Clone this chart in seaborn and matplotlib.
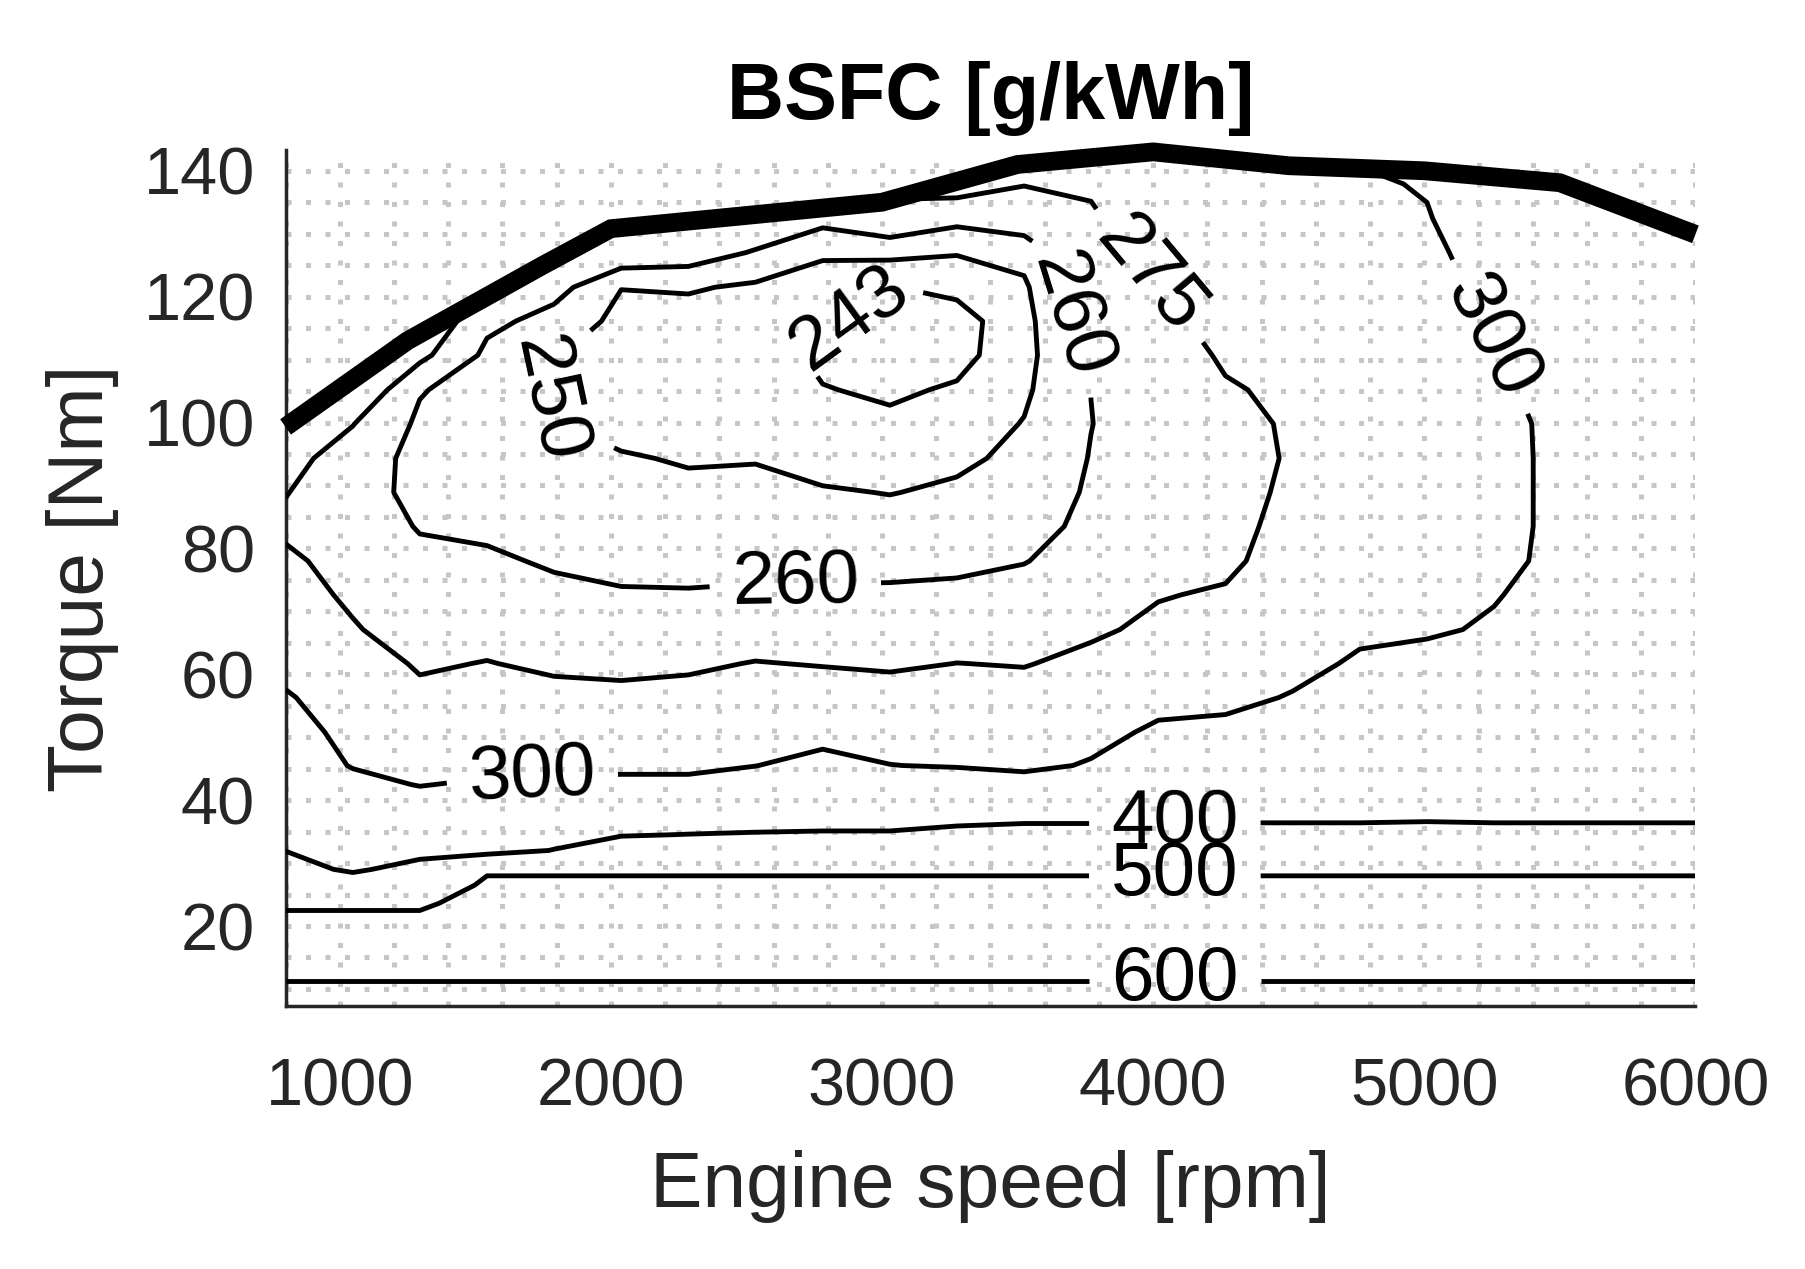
import matplotlib
matplotlib.use("Agg")
import numpy as np
import matplotlib.pyplot as plt
from matplotlib.patches import Polygon
from matplotlib.ticker import MultipleLocator
import seaborn as sns

# --- map grid -------------------------------------------------------------
speed = [800, 1048, 1295, 1543, 1790, 2038, 2286, 2533, 2781, 3029, 3276,
         3524, 3771, 4019, 4267, 4514, 4762, 5010, 5257, 5505, 5752, 6000]
torque = [7.3, 12.7, 18.2, 23.6, 26.5, 29.0, 32.0, 34.5, 37.0, 40.0, 42.5,
          45.5, 50.8, 56.3, 61.7, 67.1, 72.6, 78.0, 83.5, 88.9, 94.3, 99.8,
          105.2, 110.7, 116.1, 121.5, 127.0, 132.4, 137.9, 143.3]

# BSFC [g/kWh] per speed column, listed from low to high torque
bsfc_0800 = [700, 565, 530, 492, 460, 425, 399.1, 375, 358, 345, 336, 326, 314, 303, 290.5,
             285, 280, 278, 272, 275.6, 280, 286, 292, 298, 304, 310, 316, 322, 328, 334]
bsfc_1048 = [700, 565, 530, 492, 440, 390, 360, 345, 333, 322, 312, 297.6, 290, 284, 279.5,
             276, 273, 269, 266, 265.5, 268, 275.5, 290, 298, 305, 312, 319, 326, 333, 340]
bsfc_1295 = [700, 565, 530, 492, 455, 425, 378, 350, 330, 314, 298.1, 288, 280, 277, 274,
             269.5, 265.5, 262.5, 259.3, 256.5, 255.5, 257.5, 261, 279, 290, 300, 310, 320, 330, 340]
bsfc_1543 = [700, 565, 540, 520, 510, 493, 377, 355, 340, 322, 306, 288, 282, 278, 275.3,
             272, 267, 262, 257.5, 255, 253, 252.5, 253.5, 257, 263, 276, 288, 298, 308, 318]
bsfc_1790 = [700, 565, 540, 520, 510, 493, 402, 377, 355, 330, 309, 288, 282, 277.5, 273.5,
             268, 263, 258.5, 255, 252.5, 251, 250.2, 249.5, 250.5, 256, 264, 272, 282, 292, 302]
bsfc_2038 = [700, 565, 540, 520, 510, 493, 430, 397, 370, 340, 312, 289.5, 283, 277.5, 272.5,
             266.5, 261, 257, 254, 252, 250.4, 248.5, 247, 246.5, 247.5, 250.2, 268, 275.5, 290, 305]
bsfc_2286 = [700, 565, 540, 520, 510, 493, 440, 401, 376, 340, 312, 289.5, 283, 278, 273.5,
             267, 261, 256, 253, 251, 249.6, 247, 245.5, 245, 246, 251, 266, 274, 288, 302]
bsfc_2533 = [700, 565, 540, 520, 510, 493, 445, 404, 379, 345, 318, 299.4, 290, 281, 275.4,
             270, 261.5, 257, 253.5, 251.5, 249.7, 247, 245.5, 246.5, 247.5, 248.5, 259, 270, 284, 298]
bsfc_2781 = [700, 565, 540, 520, 510, 493, 448, 406, 381, 350, 328, 312, 287.5, 280, 274.5,
             269, 262, 256, 253, 250.6, 247.5, 245, 243.3, 241.5, 245.4, 248, 250.6, 263.5, 278, 292]
bsfc_3029 = [700, 565, 540, 520, 510, 493, 448, 406, 381, 348, 322, 300.5, 287.3, 279.5, 273.5,
             268, 262, 256.5, 252.5, 249.8, 246.5, 244.2, 242, 240.5, 239, 242.8, 252, 270, 279, 292]
bsfc_3276 = [700, 565, 540, 520, 510, 493, 455, 420, 384, 350, 320, 297.8, 290, 281, 275.1,
             270, 262.5, 257.5, 253, 251, 248.8, 245.5, 243.7, 241, 240.5, 244.5, 250.5, 263, 283, 295]
bsfc_3524 = [700, 565, 540, 520, 510, 493, 460, 425, 390, 350, 316, 292, 285, 279, 274.5,
             270, 265, 259.5, 255.5, 253, 251.5, 250.4, 248.5, 247, 247, 248.5, 253, 267, 275.5, 287]
bsfc_3771 = [700, 565, 540, 520, 510, 493, 460, 425, 390, 352, 322, 303, 288.7, 282, 277.5,
             273.5, 269, 265.5, 263, 261.5, 260.5, 259.8, 260.1, 262, 265, 268, 272, 273.5, 276.5, 285]
bsfc_4019 = [700, 565, 540, 520, 510, 493, 460, 425, 390, 360, 340, 322, 306, 288.6, 281,
             277, 274.5, 271.5, 269, 267.5, 266.5, 266, 267, 269, 271.5, 274.5, 278, 282, 286, 291]
bsfc_4267 = [700, 565, 540, 520, 510, 493, 460, 425, 392, 362, 342, 325, 308, 292.3, 285,
             280, 276, 273, 271.5, 271, 271, 272, 274, 276.5, 279.5, 283, 287, 291, 295, 299]
bsfc_4514 = [700, 565, 540, 520, 510, 493, 460, 425, 392, 365, 347, 332, 315, 302, 291.2,
             286, 282.5, 279.5, 278.5, 277, 276, 276.2, 277, 279, 282, 285, 288.5, 292, 295.5, 299]
bsfc_4762 = [700, 565, 540, 520, 510, 493, 460, 425, 392, 368, 350, 336, 320, 310, 304,
             294.6, 290, 287, 285, 284, 283.5, 284, 285, 286.5, 288.5, 290.5, 293, 295.5, 298.5, 301.5]
bsfc_5010 = [700, 565, 540, 520, 510, 493, 460, 425, 395, 370, 352, 338, 323, 313, 306,
             297.7, 294, 292, 290.5, 290, 290, 290.5, 291.5, 293, 294.5, 296, 297.5, 299.3, 300.8, 304]
bsfc_5257 = [700, 565, 540, 520, 510, 493, 460, 425, 392, 372, 355, 342, 328, 318, 310,
             302, 299, 296.8, 296.5, 296.5, 296.5, 296.8, 297.8, 299.3, 301, 303, 305, 307.5, 310, 313]
bsfc_5505 = [700, 565, 540, 520, 510, 493, 460, 425, 392, 374, 358, 346, 333, 323, 316,
             310, 306, 303, 302.5, 302.5, 302.5, 302.5, 304, 306, 309, 312, 315, 318, 322, 326]
bsfc_5752 = [700, 565, 540, 520, 510, 493, 460, 425, 392, 376, 361, 350, 338, 329, 322,
             317, 313, 311, 310, 310, 310, 310, 311, 313, 316, 319, 322, 326, 330, 334]
bsfc_6000 = [700, 565, 540, 520, 510, 493, 460, 425, 392, 378, 364, 354, 343, 334, 328,
             323, 319, 317, 316, 316, 316, 317, 318, 320, 323, 326, 330, 334, 338, 342]

columns = [bsfc_0800, bsfc_1048, bsfc_1295, bsfc_1543, bsfc_1790, bsfc_2038, bsfc_2286,
           bsfc_2533, bsfc_2781, bsfc_3029, bsfc_3276, bsfc_3524, bsfc_3771, bsfc_4019,
           bsfc_4267, bsfc_4514, bsfc_4762, bsfc_5010, bsfc_5257, bsfc_5505, bsfc_5752,
           bsfc_6000]

levels = [243, 250, 260, 275, 300, 400, 500, 600]

# full load curve
full_speed = [800, 1250, 1500, 1750, 2000, 3000, 3500, 4000, 4500, 5000, 5500, 6000]
full_torque = [99.3, 113.0, 119.0, 125.0, 130.8, 135.0, 141.0, 143.0, 140.8, 140.0, 138.1, 129.9]

# --- style ----------------------------------------------------------------
sns.set_theme(style="white")
plt.rcParams['font.family'] = ['Liberation Sans', 'DejaVu Sans']
dark = '#262626'

fig = plt.figure(figsize=(18.05, 12.69), dpi=100)
ax = fig.add_axes([0.1582, 0.2073, 0.7811, 0.6745])

bsfc = np.column_stack(columns)
cs = ax.contour(speed, torque, bsfc, levels=levels, colors='black', linewidths=3.5, zorder=3)

# only the part below the full load curve is shown
clip = Polygon(list(zip(full_speed, full_torque)) + [(6000, 0), (800, 0)],
               closed=True, transform=ax.transData)

label_pos = [(2870, 117), (1790, 104), (2680, 74.5), (3680, 117), (4000, 124),
             (1710, 43.6), (5260, 114), (4080, 36.3), (4080, 27.95), (4080, 11.3)]
ax.clabel(cs, levels=levels, inline=True, inline_spacing=22, fontsize=55,
          fmt='%d', colors='black', manual=label_pos)
cs.set_clip_path(clip)

sns.lineplot(x=full_speed, y=full_torque, color='black', linewidth=13.5, ax=ax,
             zorder=5, clip_on=False, solid_capstyle='butt', solid_joinstyle='miter')

ax.set_xlim(800, 6000)
ax.set_ylim(7.3, 143.3)
ax.set_xticks([1000, 2000, 3000, 4000, 5000, 6000])
ax.set_yticks([20, 40, 60, 80, 100, 120, 140])
ax.xaxis.set_minor_locator(MultipleLocator(200))
ax.yaxis.set_minor_locator(MultipleLocator(5))
ax.set_axisbelow(True)
ax.grid(True, which='both', color='#c6c6c6', linestyle=(0, (1, 2.9)), linewidth=3.6)

ax.tick_params(which='major', direction='in', length=11, width=2.5, color=dark,
               labelsize=48, labelcolor=dark, pad=37)
ax.tick_params(axis='y', which='major', pad=22)
ax.tick_params(which='minor', length=0)
sns.despine(ax=ax)
for side in ['left', 'bottom']:
    ax.spines[side].set_color(dark)
    ax.spines[side].set_linewidth(2.5)

ax.set_xlabel('Engine speed [rpm]', fontsize=56.5, color=dark, labelpad=22)
ax.set_ylabel('Torque [Nm]', fontsize=56.5, color=dark, labelpad=18)
ax.set_title('BSFC [g/kWh]', fontsize=57, fontweight='bold', color='black', pad=22)

fig.savefig('out.png', dpi=100)
